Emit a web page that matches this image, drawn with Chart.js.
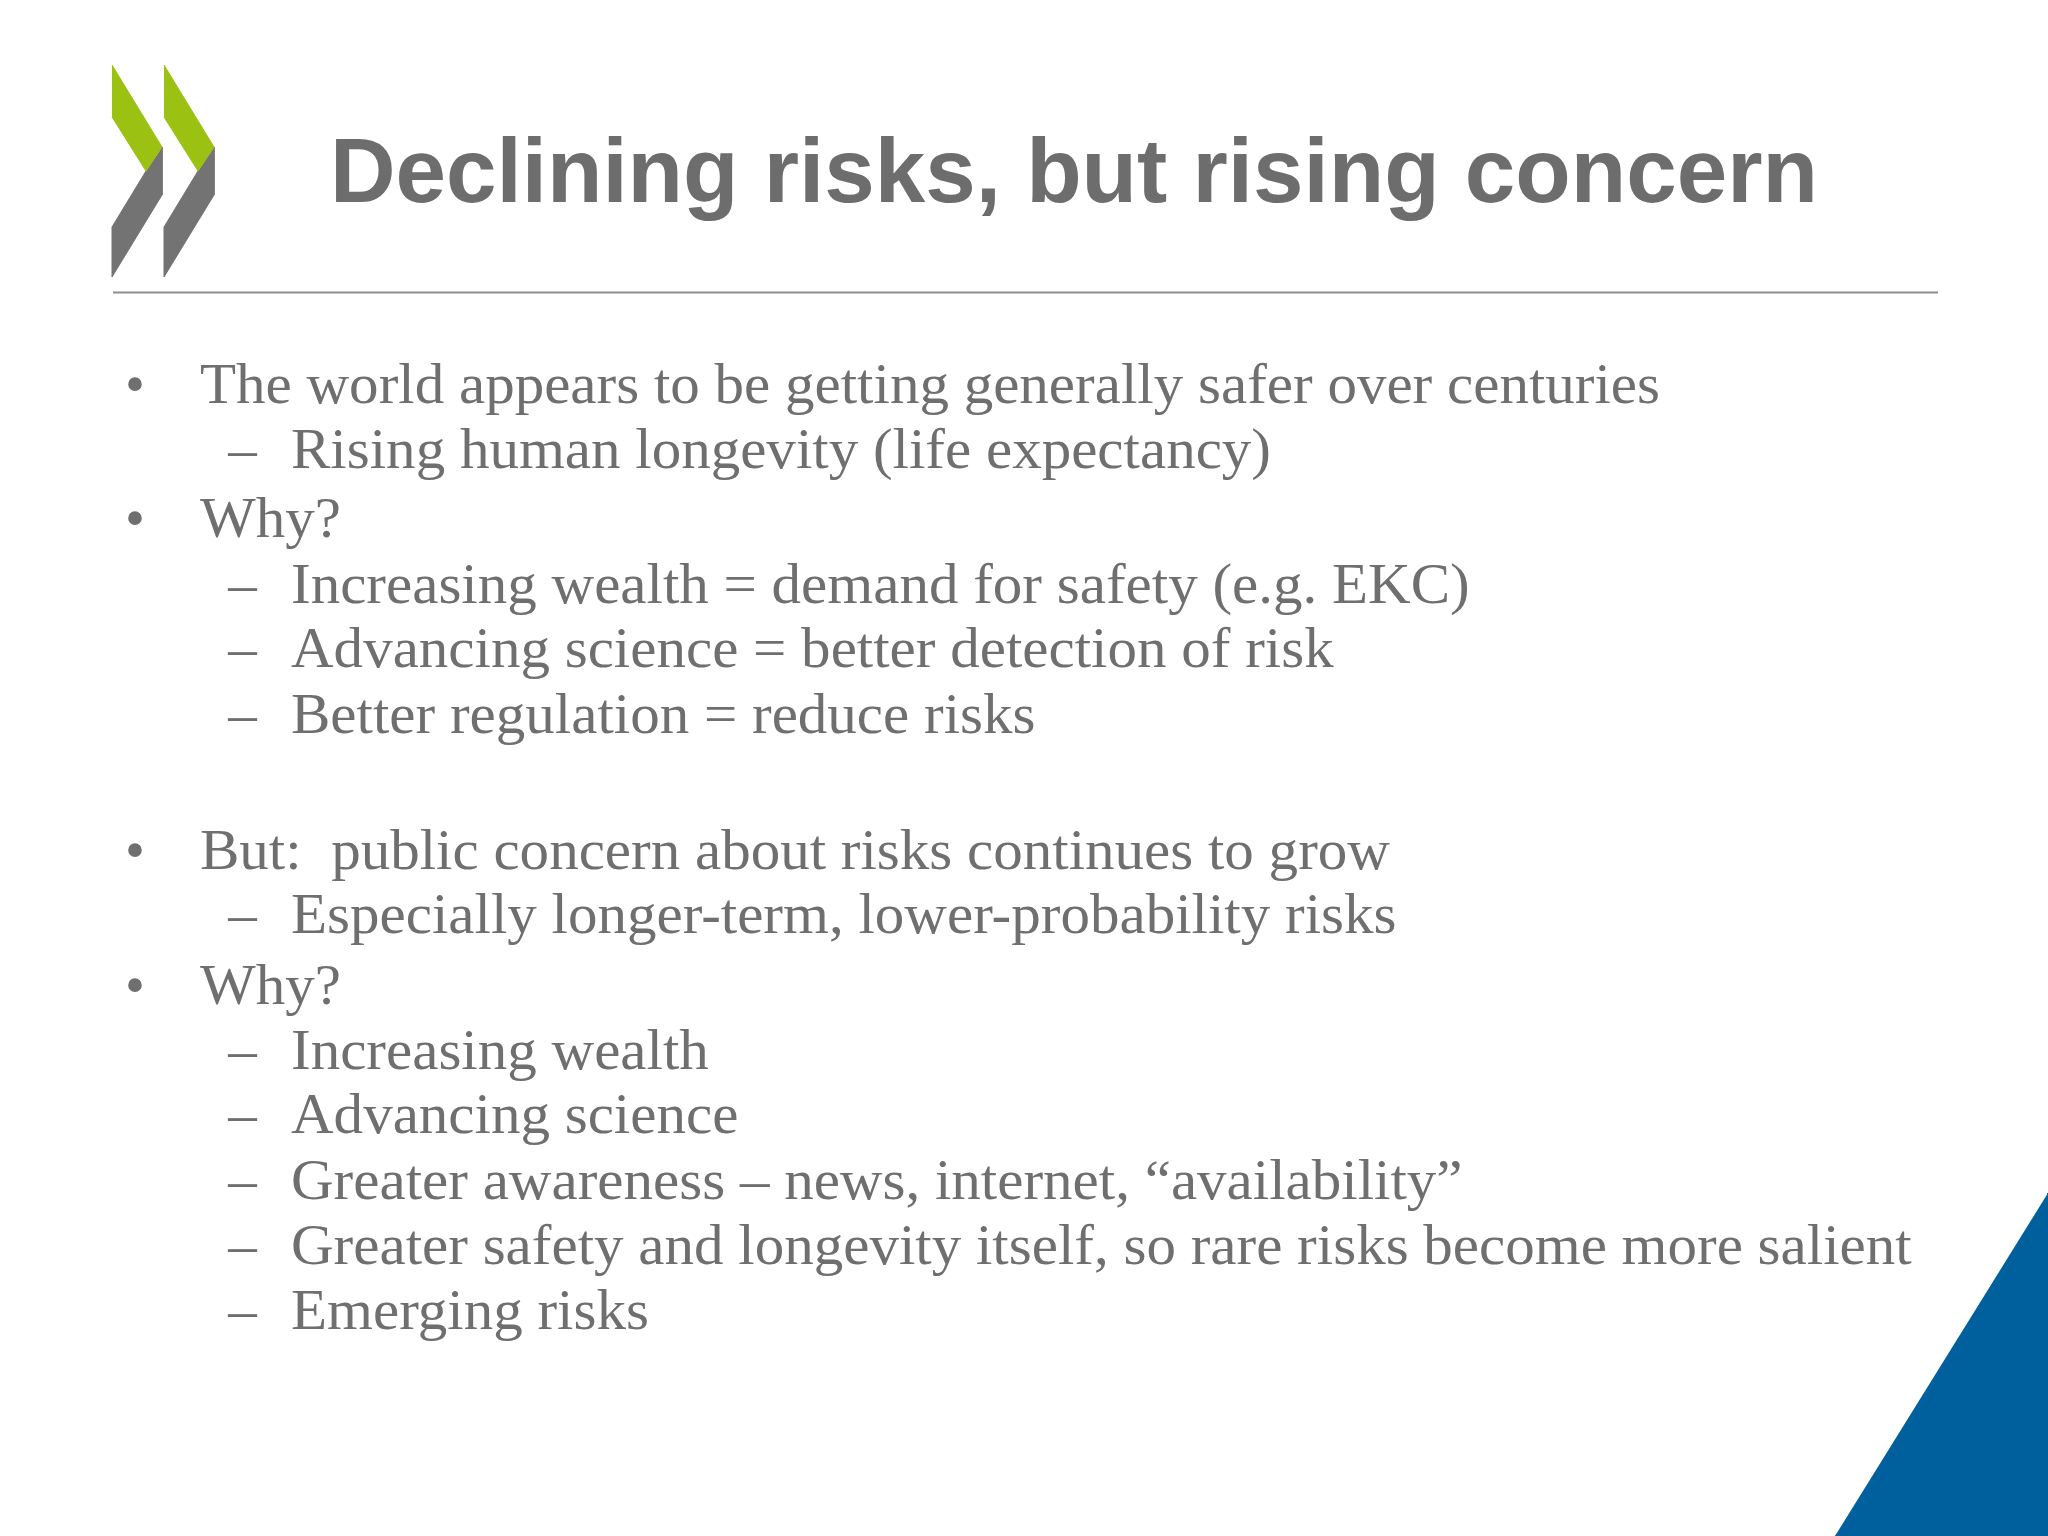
<!DOCTYPE html>
<html>
<head>
<meta charset="utf-8">
<script src="https://cdn.jsdelivr.net/npm/chart.js@4.4.1/dist/chart.umd.min.js"></script>
<style>
  html, body { margin: 0; padding: 0; background: #fff; }
  #slide { position: relative; width: 2048px; height: 1536px; overflow: hidden; background: #fff; }
  #shapes { position: absolute; left: 0; top: 0; }
  .txt { position: absolute; white-space: pre; color: #6f6f6f; }
  .title { font-family: "Liberation Sans", Arial, sans-serif; font-weight: bold; font-size: 90px; color: #6d6d6d; }
  .body { font-family: "Liberation Serif", "Times New Roman", serif; font-size: 57px; }
  .mark { display: inline-block; width: 0; height: 0; vertical-align: baseline; }
  .inner { display: inline-block; transform-origin: 0 50%; }
  .sym { text-align: center; width: 60px; }
</style>
</head>
<body>
<div id="slide">
  <canvas id="shapes" width="2048" height="1536"></canvas>
</div>
<script>
// slide geometry (canvas pixels)
const greenLeftX = [112, 162, 146, 112];
const greenLeftY = [65, 147, 171, 117];
const grayLeftX = [162, 162, 112, 112, 146];
const grayLeftY = [147, 195, 277, 227, 171];
const greenRightX = [164, 214, 198, 164];
const greenRightY = [65, 147, 171, 117];
const grayRightX = [214, 214, 164, 164, 198];
const grayRightY = [147, 195, 277, 227, 171];
const triangleX = [2048, 2048, 1835];
const triangleY = [1193, 1536, 1536];
const ruleX = [113, 1938];
const ruleY = [292.5, 292.5];

// slide text
const titleText = "Declining risks, but rising concern";
const lineLevels = [1, 2, 1, 2, 2, 2, 1, 2, 1, 2, 2, 2, 2, 2];
const lineTexts = [
  "The world appears to be getting generally safer over centuries",
  "Rising human longevity (life expectancy)",
  "Why?",
  "Increasing wealth = demand for safety (e.g. EKC)",
  "Advancing science = better detection of risk",
  "Better regulation = reduce risks",
  "But:  public concern about risks continues to grow",
  "Especially longer-term, lower-probability risks",
  "Why?",
  "Increasing wealth",
  "Advancing science",
  "Greater awareness \u2013 news, internet, \u201cavailability\u201d",
  "Greater safety and longevity itself, so rare risks become more salient",
  "Emerging risks"
];
const lineBaselines = [403, 468, 536.5, 602.5, 667, 732.5, 868.5, 933, 1003.5, 1068.5, 1133, 1198.5, 1263.5, 1328.5];

function pts(xs, ys) {
  return xs.map((x, i) => ({ x: x, y: ys[i] }));
}

function shape(xs, ys, color) {
  return {
    data: pts(xs, ys),
    showLine: true,
    fill: "shape",
    backgroundColor: color,
    borderColor: color,
    borderWidth: 1,
    pointRadius: 0,
    tension: 0,
  };
}

const green = "#9bc112";
const gray = "#737373";

new Chart(document.getElementById("shapes"), {
  type: "scatter",
  data: {
    datasets: [
      shape(greenLeftX, greenLeftY, green),
      shape(grayLeftX, grayLeftY, gray),
      shape(greenRightX, greenRightY, green),
      shape(grayRightX, grayRightY, gray),
      shape(triangleX, triangleY, "#00609d"),
      {
        data: pts(ruleX, ruleY),
        showLine: true,
        fill: false,
        borderColor: "#8d8d8d",
        borderWidth: 2,
        pointRadius: 0,
      },
    ],
  },
  options: {
    responsive: false,
    animation: false,
    devicePixelRatio: 1,
    layout: { padding: 0 },
    events: [],
    plugins: { legend: { display: false }, tooltip: { enabled: false } },
    scales: {
      x: { type: "linear", min: 0, max: 2048, display: false },
      y: { type: "linear", min: 0, max: 1536, reverse: true, display: false },
    },
  },
});

const slide = document.getElementById("slide");

// put a text block so that its baseline sits at y
function place(cls, text, x, baseline) {
  const div = document.createElement("div");
  div.className = "txt " + cls;
  const inner = document.createElement("span");
  inner.className = "inner";
  inner.textContent = text;
  const mark = document.createElement("span");
  mark.className = "mark";
  div.appendChild(inner);
  div.appendChild(mark);
  div.style.left = x + "px";
  div.style.top = "0px";
  slide.appendChild(div);
  const off = mark.getBoundingClientRect().top - slide.getBoundingClientRect().top;
  div.style.top = (baseline - off) + "px";
  return inner;
}

// title
const t = place("title", titleText, 330, 201.5);
const tw = t.getBoundingClientRect().width;
t.style.transform = "scaleX(" + (1488 / tw) + ")";

// body lines; horizontal scale fitted on the first line
let sx = 1;
lineTexts.forEach((txt, i) => {
  const lvl = lineLevels[i];
  const b = lineBaselines[i];
  const x = lvl === 1 ? 200 : 291;
  const inner = place("body", txt, x, b);
  if (i === 0) sx = 1460 / inner.getBoundingClientRect().width;
  inner.style.transform = "scaleX(" + sx + ")";
  place("body sym", lvl === 1 ? "\u2022" : "\u2013", lvl === 1 ? 105 : 212.5, b);
});
</script>
</body>
</html>
